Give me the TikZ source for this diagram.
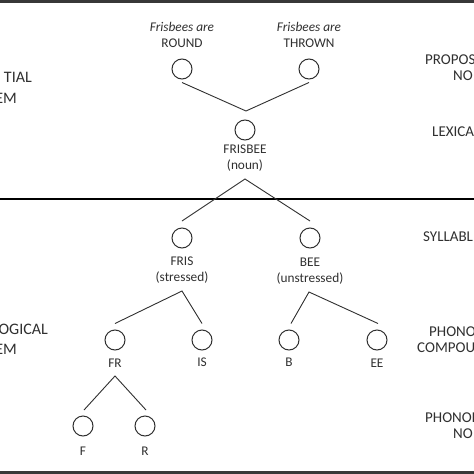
\documentclass[tikz,border=0pt]{standalone}
\usepackage{fontspec}
\setmainfont{Carlito}
\definecolor{ink}{HTML}{303030}
\definecolor{band}{HTML}{383838}
\begin{document}
\begin{tikzpicture}[x=1pt,y=-1pt,
  nd/.style={circle,draw=ink,line width=1pt,minimum size=20pt,inner sep=0pt},
  lbl/.style={font=\fontsize{13.3}{15.5}\selectfont,text=ink,align=center,inner sep=0pt},
  rside/.style={font=\fontsize{15}{17}\selectfont,text=ink,inner sep=0pt,anchor=west},
  lside/.style={font=\fontsize{16}{18}\selectfont,text=ink,inner sep=0pt,anchor=east},
  conn/.style={draw=ink,line width=0.9pt}]
\useasboundingbox (0,0) rectangle (474,474);
\clip (0,0) rectangle (474,474);
\fill[white] (0,0) rectangle (474,474);
\fill[band] (0,0) rectangle (474,3);
\fill[band] (0,471) rectangle (474,474);
\draw[line width=2pt,black] (0,199) -- (474,199);

% side labels
\node[lside] (l1) at (32,77) {TIAL};
\node[lside] (l2) at (17,98) {EM};
\node[lside] (l3) at (48,329) {OGICAL};
\node[lside] (l4) at (17,349) {EM};
\node[rside] (r1) at (425,60) {PROPOS};
\node[rside] (r2) at (453,76) {NO};
\node[rside] (r3) at (432,132) {LEXICA};
\node[rside] (r4) at (423,237) {SYLLABL};
\node[rside] (r5) at (429,332) {PHONO};
\node[rside] (r6) at (417,348) {COMPOU};
\node[rside] (r7) at (425,418) {PHONOL};
\node[rside] (r8) at (453,434) {NO};

% nodes
\node[nd] (round) at (182,69) {};
\node[lbl] (roundL) at (182,35) {\textit{Frisbees are}\\ROUND};
\node[nd] (thrown) at (309,69) {};
\node[lbl] (thrownL) at (309,35) {\textit{Frisbees are}\\THROWN};
\node[nd] (frisbee) at (245,130) {};
\node[lbl] (frisbeeL) at (245,158) {FRISBEE\\(noun)};
\node[nd] (fris) at (182,238) {};
\node[lbl] (frisL) at (182,270) {FRIS\\(stressed)};
\node[nd] (bee) at (310,238) {};
\node[lbl] (beeL) at (310,271) {BEE\\(unstressed)};
\node[nd] (fr) at (115,340) {};
\node[lbl] (frL) at (115,363) {FR};
\node[nd] (is) at (202,340) {};
\node[lbl] (isL) at (202,362) {IS};
\node[nd] (b) at (289,340) {};
\node[lbl] (bL) at (289,362) {B};
\node[nd] (ee) at (377,340) {};
\node[lbl] (eeL) at (377,363) {EE};
\node[nd] (f) at (83,426) {};
\node[lbl] (fL) at (83,451) {F};
\node[nd] (r) at (145,426) {};
\node[lbl] (rL) at (145,451) {R};

% apexes
\coordinate (ap1) at (246,111);
\coordinate (ap2) at (245,179);
\coordinate (ap3) at (182,291);
\coordinate (ap4) at (309,292);
\coordinate (ap5) at (115,376);

\draw[conn] ([yshift=-3pt]round.south) -- (ap1) -- ([yshift=-3pt]thrown.south);
\draw[conn] ([yshift=6.5pt]fris.north) -- (ap2) -- ([yshift=6.5pt]bee.north);
\draw[conn] ([yshift=6pt]fr.north) -- (ap3) -- ([yshift=6pt]is.north);
\draw[conn] ([xshift=2pt,yshift=6pt]b.north) -- (ap4) -- ([xshift=1pt,yshift=6pt]ee.north);
\draw[conn] ([xshift=1pt,yshift=5.5pt]f.north) -- (ap5) -- ([xshift=1pt,yshift=5.5pt]r.north);
\end{tikzpicture}
\end{document}
